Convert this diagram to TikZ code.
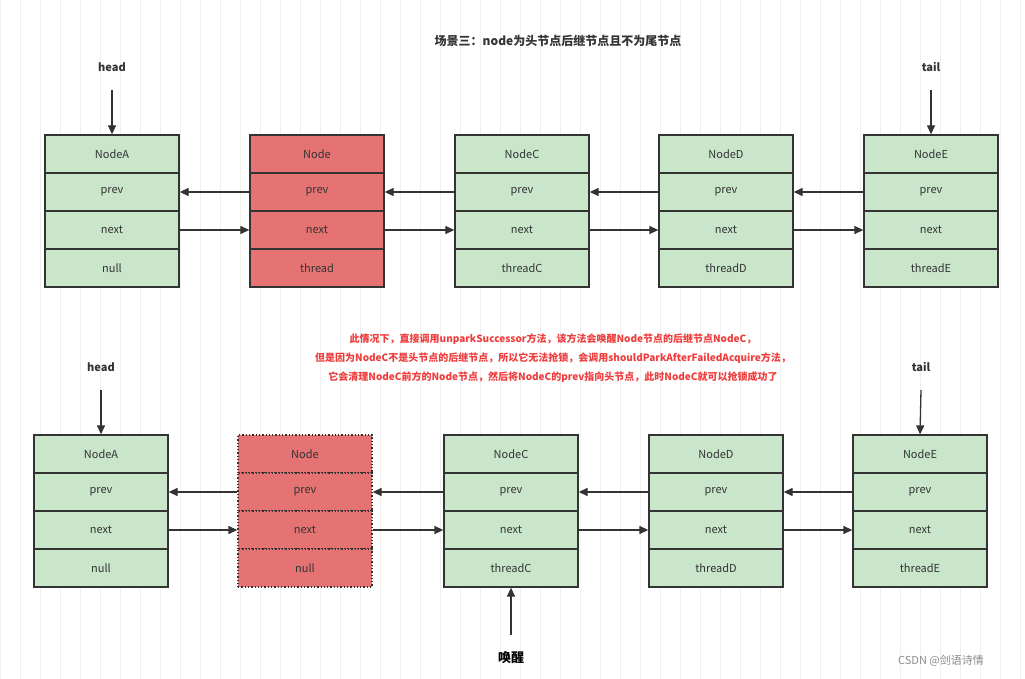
\documentclass[tikz,border=0pt]{standalone}
\usepackage{fontspec}
\setmainfont{Noto Sans CJK SC}
\usetikzlibrary{arrows.meta}
\definecolor{gfill}{HTML}{C9E6CA}
\definecolor{rfill}{HTML}{E57373}
\definecolor{strk}{HTML}{333333}
\definecolor{rtext}{HTML}{F03C3C}
\tikzset{
 cell/.style={draw=strk,line width=1.3pt,minimum width=134pt,minimum height=38pt,inner sep=0pt,font=\fontsize{11}{12}\selectfont,text=strk},
 g/.style={cell,fill=gfill},
 r/.style={cell,fill=rfill},
 rd/.style={cell,fill=rfill,dotted},
 arr/.style={draw=strk,line width=1.3pt,-{Triangle[length=9pt,width=8pt]}},
 lab/.style={font=\bfseries\fontsize{11}{12}\selectfont,text=strk}
}
\newcommand\mkcol[7]{% prefix, x, ytop, style, t1..t3 + t4
 \node[#4] (#1t) at (#2,#3+19) {#5};
 \node[#4] (#1p) at (#2,#3+57) {prev};
 \node[#4] (#1n) at (#2,#3+95) {next};
 \node[#4] (#1x) at (#2,#3+133) {#6};
}
\begin{document}
\begin{tikzpicture}[x=1pt,y=-1pt]
\useasboundingbox (0,0) rectangle (1025,679);
\fill[white] (0,0) rectangle (1025,679);
\draw[black!6,line width=0.5pt] (0,0) grid[step=20] (1025,679);
\node[lab,font=\bfseries\fontsize{12}{13}\selectfont] (title) at (558,41) {场景三：node为头节点后继节点且不为尾节点};
% top row
\mkcol{a}{112}{135}{g}{NodeA}{null}{}
\mkcol{b}{317}{135}{r}{Node}{thread}{}
\mkcol{c}{522}{135}{g}{NodeC}{threadC}{}
\mkcol{d}{726}{135}{g}{NodeD}{threadD}{}
\mkcol{e}{931}{135}{g}{NodeE}{threadE}{}
\node[lab] (h1) at (112,67) {head};
\node[lab] (t1) at (931,67) {tail};
\coordinate (h1s) at (112,90); \coordinate (t1s) at (931,90);
\draw[arr] (h1s) -- (at.north);
\draw[arr] (t1s) -- (et.north);
\foreach \l/\r in {a/b,b/c,c/d,d/e}{
 \draw[arr] (\r p.west) -- (\l p.east);
 \draw[arr] (\l n.east) -- (\r n.west);
}
% red text
\node[text=rtext,font=\bfseries\fontsize{10}{19}\selectfont,align=center] (note) at (553,358)
 {此情况下，直接调用unparkSuccessor方法，该方法会唤醒Node节点的后继节点NodeC，\\
 但是因为NodeC不是头节点的后继节点，所以它无法抢锁，会调用shouldParkAfterFailedAcquire方法，\\
 它会清理NodeC前方的Node节点，然后将NodeC的prev指向头节点，此时NodeC就可以抢锁成功了};
% bottom row
\mkcol{A}{101}{435}{g}{NodeA}{null}{}
\mkcol{B}{305}{435}{rd}{Node}{null}{}
\mkcol{C}{511}{435}{g}{NodeC}{threadC}{}
\mkcol{D}{716}{435}{g}{NodeD}{threadD}{}
\mkcol{E}{920}{435}{g}{NodeE}{threadE}{}
\node[lab] (h2) at (101,367) {head};
\node[lab] (t2) at (921,367) {tail};
\coordinate (h2s) at (101,390); \coordinate (t2s) at (921,390);
\draw[arr] (h2s) -- (At.north);
\draw[arr] (t2s) -- (Et.north);
\foreach \l/\r in {A/B,B/C,C/D,D/E}{
 \draw[arr] (\r p.west) -- (\l p.east);
 \draw[arr] (\l n.east) -- (\r n.west);
}
\node[lab,font=\bfseries\fontsize{13}{14}\selectfont,text=black] (wake) at (511,658) {唤醒};
\coordinate (ws) at (511,635);
\draw[arr] (ws) -- (Cx.south);
\node[text=black!45,font=\fontsize{11}{12}\selectfont] (wm) at (941,661) {CSDN @剑语诗情};
\end{tikzpicture}
\end{document}
